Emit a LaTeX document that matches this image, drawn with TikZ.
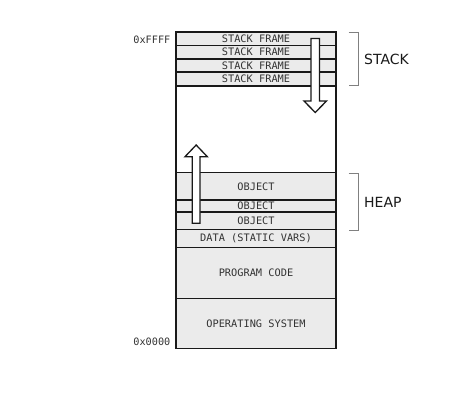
\documentclass[tikz,border=0pt]{standalone}
\usepackage{fontspec}
\setmainfont{DejaVu Sans}
\setmonofont{DejaVu Sans Mono}
\begin{document}
\begin{tikzpicture}[x=1pt,y=-1pt,
  seg/.style={draw=black!90, line width=1.6pt, fill=segfill, minimum width=160pt, inner sep=0pt, outer sep=0pt, font=\ttfamily\fontsize{10.3}{11}\selectfont, text=black!80},
  addr/.style={font=\ttfamily\fontsize{10.2}{11}\selectfont, text=black!80, anchor=east, inner sep=0pt},
  brk/.style={draw=black!50, line width=0.9pt},
  lbl/.style={font=\fontsize{14}{16}\selectfont, text=black!90, anchor=west, inner sep=0pt},
  arr/.style={draw=black!90, line width=1.3pt, fill=white, line join=miter}
]
\definecolor{segfill}{HTML}{EBEBEB}
\useasboundingbox (0,0) rectangle (474,405);
% stack frames
\node[seg, minimum height=13.4pt] (sf1) at (256,38.7) {STACK FRAME};
\node[seg, minimum height=13.4pt] (sf2) at (256,52.1) {STACK FRAME};
\node[seg, minimum height=13.4pt] (sf3) at (256,65.5) {STACK FRAME};
\node[seg, minimum height=13.4pt] (sf4) at (256,78.9) {STACK FRAME};
% free space
\node[seg, fill=white, minimum height=87pt] (free) at (256,129.2) {};
% heap
\node[seg, minimum height=27.3pt] (ob1) at (256,186.3) {OBJECT};
\node[seg, minimum height=11.7pt] (ob2) at (256,205.8) {OBJECT};
\node[seg, minimum height=17.6pt] (ob3) at (256,220.5) {OBJECT};
\node[seg, minimum height=18pt] (data) at (256,238.3) {DATA (STATIC VARS)};
\node[seg, minimum height=51pt] (code) at (256,272.8) {PROGRAM CODE};
\node[seg, minimum height=50pt] (os) at (256,323.3) {OPERATING SYSTEM};
% addresses
\node[addr] (hi) at (170.5,39.5) {0xFFFF};
\node[addr] (lo) at (170.5,341.5) {0x0000};
% arrows
\draw[arr] (311,38.5) -- (319.5,38.5) -- (319.5,101) -- (326.5,101) -- (315.25,112.5) -- (304,101) -- (311,101) -- cycle;
\draw[arr] (192.3,223.3) -- (200,223.3) -- (200,156.7) -- (207.3,156.7) -- (196.15,145) -- (185,156.7) -- (192.3,156.7) -- cycle;
% brackets
\coordinate (st1) at (348.5,32.5);
\coordinate (st2) at (358,32.5);
\coordinate (st3) at (358,85);
\coordinate (st4) at (348.5,85);
\draw[brk] (st1) -- (st2) -- (st3) -- (st4);
\coordinate (hp1) at (348.5,173);
\coordinate (hp2) at (358,173);
\coordinate (hp3) at (358,230.5);
\coordinate (hp4) at (348.5,230.5);
\draw[brk] (hp1) -- (hp2) -- (hp3) -- (hp4);
\node[lbl] (stack) at (364,59.5) {STACK};
\node[lbl] (heap) at (364,202.5) {HEAP};
\end{tikzpicture}
\end{document}
